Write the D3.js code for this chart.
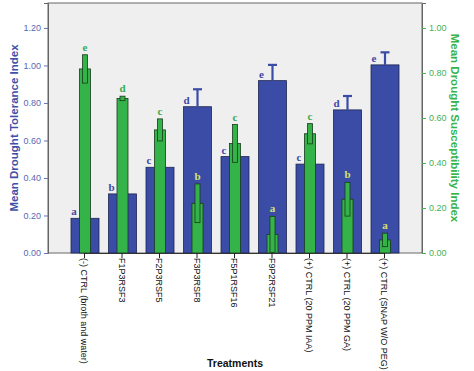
<!DOCTYPE html>
<html>
<head>
<meta charset="utf-8">
<script src="https://cdn.jsdelivr.net/npm/d3@7"></script>
<style>
  body { margin: 0; background: #fff; }
  svg { display: block; }
</style>
</head>
<body>
<div id="chart"></div>
<script>
// treatments and the two indices (blue = tolerance on left axis, green = susceptibility on right axis)
const categories = ["(-) CTRL (broth and water)", "F1P3RSF3", "F2P3RSF5", "F3P3RSF8", "F5P1RSF16",
  "F9P2RSF21", "(+) CTRL (20 PPM IAA)", "(+) CTRL (20 PPM GA)", "(+) CTRL (SNAP W/O PEG)"];
const tolerance = [0.185, 0.315, 0.457, 0.78, 0.514, 0.919, 0.474, 0.763, 1.003];
const toleranceErr = [0.03, 0.03, 0.03, 0.093, 0.03, 0.084, 0.03, 0.074, 0.067];
const toleranceLetters = ["a", "b", "c", "d", "c", "e", "c", "d", "e"];
const susceptibility = [0.818, 0.687, 0.547, 0.221, 0.487, 0.083, 0.53, 0.239, 0.058];
const susceptibilityErr = [0.063, 0.01, 0.049, 0.086, 0.084, 0.08, 0.045, 0.075, 0.03];
const susceptibilityLetters = ["e", "d", "c", "b", "c", "a", "c", "b", "a"];
const leftTicks = [0, 0.2, 0.4, 0.6, 0.8, 1.0, 1.2];
const rightTicks = [0, 0.2, 0.4, 0.6, 0.8, 1.0];

const width = 474;
const height = 371;
const plotLeft = 48, plotRight = 422, plotTop = 3, plotBottom = 253;

const blue = "#3a4ca6";
const green = "#33b348";

var svg = d3.select('#chart').append('svg')
    .attr('width', width)
    .attr('height', height);

var xScale = d3.scalePoint().domain(categories).range([84, 384]);
var yLeft = d3.scaleLinear().domain([0, 1.333]).range([plotBottom, plotTop]);
var yRight = d3.scaleLinear().domain([0, 1.111]).range([plotBottom, plotTop]);

// plot background
svg.append('rect')
    .attr('x', plotLeft).attr('y', plotTop)
    .attr('width', plotRight - plotLeft).attr('height', plotBottom - plotTop)
    .style('fill', '#efefef')
    .style('stroke', '#666')
    .style('stroke-width', 1);

var rows = categories.map((c, i) => ({
    name: c,
    tol: tolerance[i], tolErr: toleranceErr[i], tolLetter: toleranceLetters[i],
    sus: susceptibility[i], susErr: susceptibilityErr[i], susLetter: susceptibilityLetters[i]
}));

var blueW = 28, greenW = 11;

// blue bars
svg.append('g').selectAll('rect')
    .data(rows).enter()
    .append('rect')
    .attr('x', d => xScale(d.name) + 1 - blueW / 2)
    .attr('y', d => yLeft(d.tol))
    .attr('width', blueW)
    .attr('height', d => plotBottom - yLeft(d.tol))
    .style('fill', blue)
    .style('stroke', '#1d2550')
    .style('stroke-width', 0.8);

// blue error bars (upper half only, like the original)
var tolErrG = svg.append('g');
rows.forEach(d => {
    let cx = xScale(d.name) + 1;
    tolErrG.append('line')
        .attr('x1', cx).attr('x2', cx)
        .attr('y1', yLeft(d.tol)).attr('y2', yLeft(d.tol + d.tolErr))
        .style('stroke', blue).style('stroke-width', 2.2);
    tolErrG.append('line')
        .attr('x1', cx - 4.5).attr('x2', cx + 4.5)
        .attr('y1', yLeft(d.tol + d.tolErr)).attr('y2', yLeft(d.tol + d.tolErr))
        .style('stroke', blue).style('stroke-width', 2.2);
});

// green bars (drawn over the blue error bars)
svg.append('g').selectAll('rect')
    .data(rows).enter()
    .append('rect')
    .attr('x', d => xScale(d.name) + 1 - greenW / 2)
    .attr('y', d => yRight(d.sus))
    .attr('width', greenW)
    .attr('height', d => plotBottom - yRight(d.sus))
    .style('fill', green)
    .style('stroke', '#1a3a1e')
    .style('stroke-width', 0.8);

// green error boxes
svg.append('g').selectAll('rect')
    .data(rows).enter()
    .append('rect')
    .attr('x', d => xScale(d.name) + 1 - 2.5)
    .attr('y', d => yRight(d.sus + d.susErr))
    .attr('width', 5)
    .attr('height', d => yRight(d.sus - d.susErr) - yRight(d.sus + d.susErr))
    .style('fill', green)
    .style('stroke', '#1a3a1e')
    .style('stroke-width', 0.8);

// letters
var letters = svg.append('g')
    .style('font-family', '"Liberation Serif", "DejaVu Serif", serif')
    .style('font-weight', 700)
    .style('font-size', '11px');

letters.selectAll('text.tl')
    .data(rows).enter()
    .append('text')
    .attr('x', d => xScale(d.name) - 10)
    .attr('y', d => yLeft(d.tol) - 3)
    .attr('text-anchor', 'middle')
    .style('fill', '#3d47a8')
    .text(d => d.tolLetter);

letters.selectAll('text.sl')
    .data(rows).enter()
    .append('text')
    .attr('x', d => xScale(d.name) + 1)
    .attr('y', d => yRight(d.sus + d.susErr) - 4)
    .attr('text-anchor', 'middle')
    .style('fill', d => yRight(d.sus + d.susErr) - 10 > yLeft(d.tol) ? '#d2e36a' : '#3aa852')
    .text(d => d.susLetter);

// axes
var leftAxis = d3.axisLeft(yLeft).tickValues(leftTicks).tickFormat(d3.format('.2f')).tickSize(4);
var rightAxis = d3.axisRight(yRight).tickValues(rightTicks).tickFormat(d3.format('.2f')).tickSize(4);
var bottomAxis = d3.axisBottom(xScale).tickSize(5).tickFormat('');

var gl = svg.append('g')
    .attr('transform', `translate(${plotLeft},0)`)
    .call(leftAxis);
gl.select('.domain').attr('stroke', '#666');
gl.selectAll('.tick line').attr('stroke', '#6a74b8');
gl.selectAll('.tick text').style('fill', '#5a66b4').style('font-family', '"Liberation Sans", Arial, sans-serif').style('font-size', '9px');

var gr = svg.append('g')
    .attr('transform', `translate(${plotRight},0)`)
    .call(rightAxis);
gr.select('.domain').attr('stroke', '#666');
gr.selectAll('.tick line').attr('stroke', '#45b055');
gr.selectAll('.tick text').style('fill', '#45b055').style('font-family', '"Liberation Sans", Arial, sans-serif').style('font-size', '9px');

var gb = svg.append('g')
    .attr('transform', `translate(0,${plotBottom})`)
    .call(bottomAxis);
gb.select('.domain').attr('stroke', '#333');
gb.selectAll('.tick line').attr('stroke', '#222');

// rotated category labels
svg.append('g').selectAll('text')
    .data(categories).enter()
    .append('text')
    .attr('transform', d => `translate(${xScale(d) - 3},${plotBottom + 5}) rotate(90)`)
    .attr('text-anchor', 'start')
    .style('font-family', '"Liberation Sans", Arial, sans-serif')
    .style('font-size', '9px')
    .style('fill', '#111')
    .text(d => d);

// axis titles
svg.append('text')
    .attr('transform', `translate(18,128) rotate(-90)`)
    .attr('text-anchor', 'middle')
    .style('font-family', '"Liberation Sans", Arial, sans-serif')
    .style('font-size', '11.5px')
    .style('font-weight', 700)
    .style('fill', '#3d4fa8')
    .text('Mean Drought Tolerance Index');

svg.append('text')
    .attr('transform', `translate(451,128) rotate(90)`)
    .attr('text-anchor', 'middle')
    .style('font-family', '"Liberation Sans", Arial, sans-serif')
    .style('font-size', '11.5px')
    .style('font-weight', 700)
    .style('fill', '#35b44a')
    .text('Mean Drought Susceptibility Index');

svg.append('text')
    .attr('x', 235)
    .attr('y', 367)
    .attr('text-anchor', 'middle')
    .style('font-family', '"Liberation Sans", Arial, sans-serif')
    .style('font-size', '10.5px')
    .style('font-weight', 700)
    .style('fill', '#111')
    .text('Treatments');
</script>
</body>
</html>
